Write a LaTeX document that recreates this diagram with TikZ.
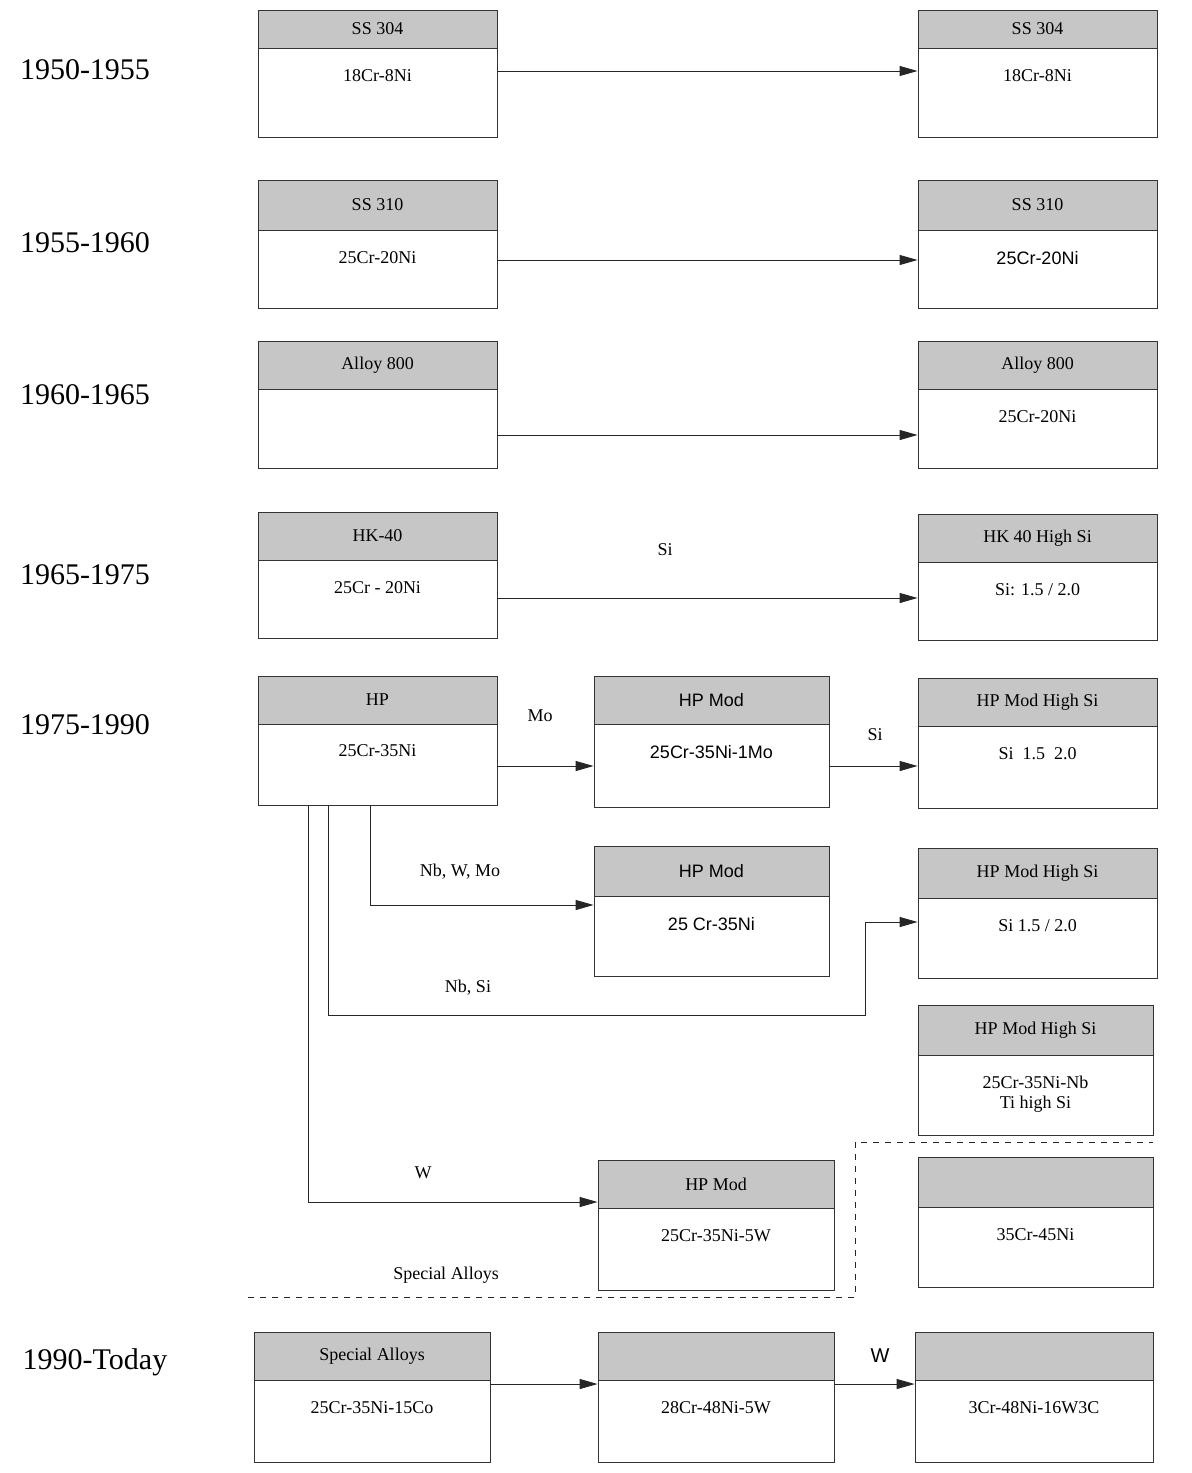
\documentclass[tikz,border=0pt]{standalone}
\usepackage{fontspec}
\setmainfont{Liberation Serif}
\newfontfamily\sansf{Liberation Sans}
\usetikzlibrary{arrows.meta}
\tikzset{
 hdr/.style={draw=black!80,fill=gray!45,inner sep=0pt,font=\fontsize{9}{10}\selectfont},
 bdy/.style={draw=black!80,fill=white,inner sep=0pt},
 btxt/.style={font=\fontsize{9}{10}\selectfont,align=center,anchor=north},
 yr/.style={font=\fontsize{15}{17}\selectfont},
 lbl/.style={font=\fontsize{9}{10}\selectfont},
 arr/.style={-{Triangle[length=9pt,width=5pt]},black!85,line width=0.5pt},
 ln/.style={black!85,line width=0.5pt}
}
% name, x1, x2, ytop, ymid, ybot, header, body
\newcommand\mybox[8]{%
 \node[hdr,minimum width={(#3-#2)*0.5pt},minimum height={(#5-#4)*0.5pt}] (#1-h) at ({(#2+#3)/2},{(#4+#5)/2}) {#7};
 \node[bdy,minimum width={(#3-#2)*0.5pt},minimum height={(#6-#5)*0.5pt}] (#1-b) at ({(#2+#3)/2},{(#5+#6)/2}) {};
 \node[btxt] (#1-t) at ({(#2+#3)/2},{#5+14}) {#8};}
\begin{document}
\begin{tikzpicture}[x=0.5pt,y=-0.5pt]
\useasboundingbox (0,0) rectangle (1191,1473);
\node[yr] (y1) at (85,70) {1950-1955};
\node[yr] (y2) at (85,243) {1955-1960};
\node[yr] (y3) at (85,395) {1960-1965};
\node[yr] (y4) at (85,575) {1965-1975};
\node[yr] (y5) at (85,725) {1975-1990};
\node[yr] (y6) at (95,1362) {1990-Today};
\mybox{a1}{258}{497}{10}{48}{137}{SS 304}{18Cr-8Ni}
\mybox{b1}{918}{1157}{10}{48}{137}{SS 304}{18Cr-8Ni}
\mybox{a2}{258}{497}{180}{230}{308}{SS 310}{25Cr-20Ni}
\mybox{b2}{918}{1157}{180}{230}{308}{SS 310}{\sansf 25Cr-20Ni}
\mybox{a3}{258}{497}{341}{389}{468}{Alloy 800}{}
\mybox{b3}{918}{1157}{341}{389}{468}{Alloy 800}{25Cr-20Ni}
\mybox{a4}{258}{497}{512}{560}{638}{HK-40}{25Cr - 20Ni}
\mybox{b4}{918}{1157}{514}{562}{640}{HK 40 High Si}{Si: 1.5 / 2.0}
\mybox{a5}{258}{497}{676}{724}{805}{HP}{25Cr-35Ni}
\mybox{m5}{594}{829}{676}{724}{807}{\sansf HP Mod}{\sansf 25Cr-35Ni-1Mo}
\mybox{b5}{918}{1157}{678}{726}{808}{HP Mod High Si}{Si\enspace 1.5\enspace 2.0}
\mybox{m6}{594}{829}{846}{896}{976}{\sansf HP Mod}{\sansf 25 Cr-35Ni}
\mybox{b6}{918}{1157}{848}{898}{978}{HP Mod High Si}{Si 1.5 / 2.0}
\mybox{b7}{918}{1153}{1005}{1055}{1135}{HP Mod High Si}{25Cr-35Ni-Nb\\Ti high Si}
\mybox{m8}{598}{834}{1160}{1208}{1290}{HP Mod}{25Cr-35Ni-5W}
\mybox{b8}{918}{1153}{1157}{1207}{1287}{}{35Cr-45Ni}
\mybox{a9}{254}{490}{1332}{1380}{1462}{Special Alloys}{25Cr-35Ni-15Co}
\mybox{m9}{598}{834}{1332}{1380}{1462}{}{28Cr-48Ni-5W}
\mybox{b9}{915}{1153}{1332}{1380}{1462}{}{3Cr-48Ni-16W3C}
\coordinate (r1) at (0,71);
\coordinate (r2) at (0,260);
\coordinate (r3) at (0,435);
\coordinate (r4) at (0,598);
\coordinate (r5) at (0,766);
\coordinate (r9) at (0,1384);
\draw[arr] (a1-b.east |- r1) -- (b1-b.west |- r1);
\draw[arr] (a2-b.east |- r2) -- (b2-b.west |- r2);
\draw[arr] (a3-b.east |- r3) -- (b3-b.west |- r3);
\draw[arr] (a4-b.east |- r4) -- (b4-b.west |- r4);
\node[lbl] (l4) at (665,550) {Si};
\draw[arr] (a5-b.east |- r5) -- (m5-b.west |- r5);
\node[lbl] (l5a) at (540,716) {Mo};
\draw[arr] (m5-b.east |- r5) -- (b5-b.west |- r5);
\node[lbl] (l5b) at (875,735) {Si};
\coordinate (p6a) at (370,805);
\coordinate (p6b) at (370,905);
\draw[arr] (p6a) -- (p6b) -- (m6-b.west |- p6b);
\node[lbl] (l6) at (460,872) {Nb, W, Mo};
\coordinate (p7a) at (328,805);
\coordinate (p7b) at (328,1015);
\coordinate (p7c) at (865,1015);
\coordinate (p7d) at (865,922);
\draw[arr] (p7a) -- (p7b) -- (p7c) -- (p7d) -- (b6-b.west |- p7d);
\node[lbl] (l7) at (468,988) {Nb, Si};
\coordinate (p8a) at (308,805);
\coordinate (p8b) at (308,1202);
\draw[arr] (p8a) -- (p8b) -- (m8-h.west |- p8b);
\node[lbl] (l8) at (423,1173) {W};
\coordinate (d1) at (248,1297);
\coordinate (d2) at (855,1297);
\coordinate (d3) at (855,1142);
\coordinate (d4) at (1153,1142);
\draw[ln,dashed] (d1) -- (d2) -- (d3) -- (d4);
\node[lbl] (l9) at (446,1275) {Special Alloys};
\draw[arr] (a9-b.east |- r9) -- (m9-b.west |- r9);
\draw[arr] (m9-b.east |- r9) -- (b9-b.west |- r9);
\node[lbl,font=\sansf\fontsize{10}{11}\selectfont] (l10) at (880,1356) {W};
\end{tikzpicture}
\end{document}
